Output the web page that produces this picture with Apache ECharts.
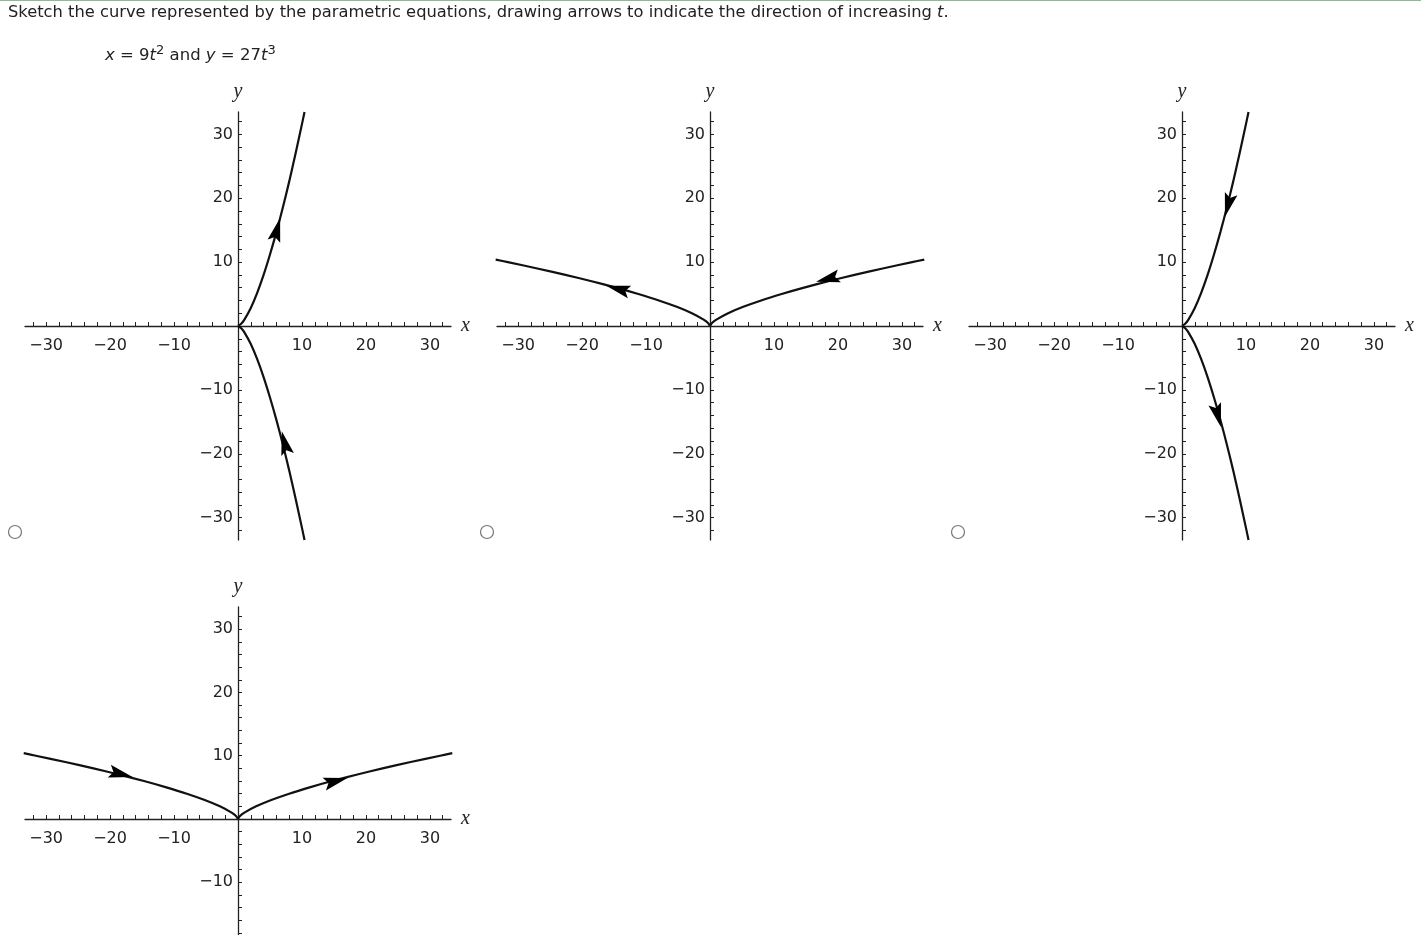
<!DOCTYPE html>
<html><head><meta charset="utf-8">
<script src="https://cdn.jsdelivr.net/npm/echarts@6/dist/echarts.min.js"></script>
<style>html,body{margin:0;padding:0;background:#fff}#c{width:1421px;height:935px}</style>
</head><body><div id="c"></div>
<script>
// Curve samples (branch of the cusp)
const branchA = [0, 0.5, 1, 2, 3, 4, 5, 6, 7, 8, 9, 10, 10.4];
const branchB = [0, 0.35, 1, 2.83, 5.2, 8, 11.2, 14.7, 18.5, 22.6, 27, 31.6, 33.5];
const majorTicks = [-30, -20, -10, 10, 20, 30];
const allTicks = [-32,-30,-28,-26,-24,-22,-20,-18,-16,-14,-12,-10,-8,-6,-4,-2,2,4,6,8,10,12,14,16,18,20,22,24,26,28,30,32];
// arrow positions [x, y, rotation] per panel
const arrows1 = [[6.1, 15.1, -15], [7.3, -18.3, 14]];
const arrows2 = [[18.4, 7.4, 104], [-14.4, 5.8, 75]];
const arrows3 = [[7.2, 18.9, 165], [5.6, -14.0, 195]];
const arrows4 = [[15.3, 6.0, -75], [-18.3, 7.1, -104]];

const panels = [
  {left: 25, top: 112, height: 428, kind: 'v', arrows: arrows1},
  {left: 497, top: 112, height: 428, kind: 'h', arrows: arrows2},
  {left: 969, top: 112, height: 428, kind: 'v', arrows: arrows3},
  {left: 25, top: 607, height: 424, kind: 'h', arrows: arrows4}
];
const R = 33.3, YR = 33.5, W = 426;
const FONT = 'DejaVu Sans';
const lbl = v => v < 0 ? '\u2212' + (-v) : String(v);
const grid = [], xAxis = [], yAxis = [], series = [];
panels.forEach((p, i) => {
  grid.push({left: p.left, top: p.top, width: W, height: p.height, outerBoundsMode: 'none', containLabel: false});
  const ax = (type, off) => ({type: 'value', gridIndex: i, min: type === 'x' ? -R : -YR, max: type === 'x' ? R : YR,
      position: type === 'x' ? 'bottom' : 'left', offset: off,
      splitLine: {show: false},
      axisLine: {show: true, onZero: false, lineStyle: {color: '#222', width: 1.3}},
      axisTick: {show: true, inside: true, length: 4, customValues: allTicks, lineStyle: {color: '#222', width: 1}},
      axisLabel: {show: true, customValues: majorTicks, formatter: lbl, fontFamily: FONT, fontSize: 16, color: '#222', margin: type === 'x' ? 12 : 5},
      name: type, nameGap: 10,
      nameTextStyle: {fontFamily: 'Liberation Serif', fontStyle: 'italic', fontSize: 20, color: '#222'}
  });
  xAxis.push(ax('x', -p.height / 2)); yAxis.push(ax('y', -W / 2));
  let b1, b2;
  if (p.kind === 'v') {
    b1 = branchA.map((v, k) => [v, branchB[k]]);
    b2 = branchA.map((v, k) => [v, -branchB[k]]);
  } else {
    b1 = branchA.map((v, k) => [branchB[k], v]);
    b2 = branchA.map((v, k) => [-branchB[k], v]);
  }
  [b1, b2].forEach(d => series.push({type: 'line', xAxisIndex: i, yAxisIndex: i, data: d, showSymbol: false, smooth: 0.3,
    lineStyle: {color: '#111', width: 2.2}, silent: true, z: 3}));
  series.push({type: 'scatter', xAxisIndex: i, yAxisIndex: i, symbol: 'path://M0,0 L6,22 L0,18 L-6,22 Z', symbolSize: [13, 24],
    itemStyle: {color: '#000', opacity: 1}, z: 4, silent: true,
    data: p.arrows.map(a => ({value: [a[0], a[1]], symbolRotate: a[2]}))});
});

const chart = echarts.init(document.getElementById('c'));
chart.setOption({
  animation: false,
  grid, xAxis, yAxis, series,
  graphic: [
    {type: 'rect', shape: {x: 0, y: 0, width: 1421, height: 1}, style: {fill: '#9bb39b'}},
    {type: 'text', left: 8, top: 5, style: {text: 'Sketch the curve represented by the parametric equations, drawing arrows to indicate the direction of increasing {i|t}.',
      font: '16.3px DejaVu Sans', fill: '#222', rich: {i: {font: 'italic 16.3px DejaVu Sans', fill: '#222'}}}},
    {type: 'text', left: 105, top: 44, style: {text: '{i|x} = 9{i|t}{s|2} and {i|y} = 27{i|t}{s|3}',
      font: '16.5px DejaVu Sans', fill: '#222', rich: {i: {font: 'italic 16.5px DejaVu Sans', fill: '#222'}, s: {font: '13px DejaVu Sans', fill: '#222', padding: [0, 0, 10, 0]}}}},
    {type: 'circle', shape: {cx: 15, cy: 532, r: 6.5}, style: {fill: '#fff', stroke: '#777', lineWidth: 1.2}},
    {type: 'circle', shape: {cx: 487, cy: 532, r: 6.5}, style: {fill: '#fff', stroke: '#777', lineWidth: 1.2}},
    {type: 'circle', shape: {cx: 958, cy: 532, r: 6.5}, style: {fill: '#fff', stroke: '#777', lineWidth: 1.2}}
  ]
});
</script></body></html>
